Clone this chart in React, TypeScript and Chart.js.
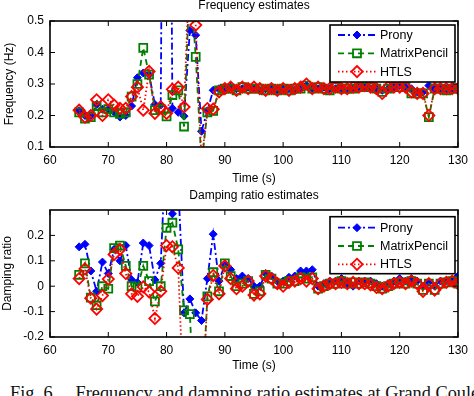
import React, { useEffect, useRef } from "react";
import { Chart, registerables } from "chart.js";
Chart.register(...registerables);

// ---------------- data ----------------
const time = [
  65, 66, 67, 68, 69, 70, 71, 72, 73, 74, 75, 76, 77, 78, 79, 80, 81, 82, 83, 84, 85, 86,
  87, 88, 89, 90, 91, 92, 93, 94, 95, 96, 97, 98, 99, 100, 101, 102, 103, 104, 105, 106,
  107, 108, 109, 110, 111, 112, 113, 114, 115, 116, 117, 118, 119, 120, 121, 122, 123, 124,
  125, 126, 127, 128, 129, 130,
];
const seriesNames = ["Prony", "MatrixPencil", "HTLS"];
const xTicks = [60, 70, 80, 90, 100, 110, 120, 130];
const freqTicks = [0.1, 0.2, 0.3, 0.4, 0.5];
const dampTicks = [-0.2, -0.1, 0, 0.1, 0.2];

const freqProny = [
  0.215, 0.2, 0.2, 0.235, 0.22, 0.22, 0.21, 0.195, 0.2, 0.23, 0.32, 0.335, 0.33, 0.235, 0.233,
  3.0, 0.223, 0.21, 0.198, 0.47, 0.455, 0.15, 0.215, 0.28,
  0.285, 0.285, 0.29, 0.285, 0.285, 0.29, 0.285, 0.28, 0.285, 0.285, 0.28, 0.285, 0.285, 0.28,
  0.285, 0.295, 0.285, 0.285, 0.29, 0.285, 0.285, 0.285, 0.28, 0.285, 0.29, 0.29, 0.285, 0.285,
  0.28, 0.285, 0.29, 0.295, 0.29, 0.285, 0.275, 0.275, 0.295, 0.285, 0.285, 0.285, 0.285, 0.285,
];
const freqMatrixPencil = [
  0.21, 0.19, 0.195, 0.23, 0.21, 0.22, 0.21, 0.205, 0.21, 0.26, 0.3, 0.415, 0.33, 0.217, 0.22,
  0.197, 0.265, 0.28, 0.165, 0.65, 0.386, 0.05, 0.21, 0.215,
  0.28, 0.285, 0.285, 0.28, 0.29, 0.285, 0.285, 0.285, 0.28, 0.285, 0.28, 0.285, 0.28, 0.285,
  0.285, 0.295, 0.285, 0.29, 0.285, 0.28, 0.29, 0.285, 0.285, 0.285, 0.29, 0.29, 0.29, 0.285,
  0.275, 0.285, 0.29, 0.29, 0.29, 0.27, 0.27, 0.27, 0.195, 0.285, 0.285, 0.28, 0.285, 0.285,
];
const freqHTLS = [
  0.217, 0.195, 0.2, 0.25, 0.2, 0.25, 0.233, 0.223, 0.223, 0.26, 0.29, 0.217, 0.34, 0.207, 0.227,
  0.207, 0.283, 0.29, 0.227, 0.7, 0.487, 0.05, 0.222, 0.22,
  0.275, 0.285, 0.29, 0.28, 0.29, 0.285, 0.29, 0.285, 0.28, 0.285, 0.28, 0.285, 0.28, 0.285,
  0.29, 0.3, 0.285, 0.29, 0.285, 0.285, 0.29, 0.285, 0.285, 0.29, 0.29, 0.295, 0.29, 0.285,
  0.27, 0.29, 0.29, 0.29, 0.29, 0.275, 0.27, 0.27, 0.2, 0.285, 0.285, 0.285, 0.285, 0.285,
];

const dampProny = [
  0.155, 0.165, 0.06, -0.02, 0.095, 0.05, 0.145, 0.1, 0.16, 0.025, 0.015, 0.17, 0.16, 0.025,
  0.09, 0.6, 0.285, 0.4, -0.105, -0.05, -0.105, -0.135, 0.03, 0.205, 0.02,
  0.085, 0.065, 0.03, 0.04, 0.03, 0.0, 0.0, 0.05, 0.04, 0.02,
  0.02, 0.035, 0.04, 0.06, 0.06, 0.065, 0.0, 0.01, 0.02, 0.02,
  0.03, 0.01, 0.0, 0.02, 0.02, 0.02, 0.01, 0.0, 0.01, 0.02,
  0.03, 0.02, 0.03, 0.02, 0.0, 0.015, 0.0, 0.02, 0.02, 0.025, 0.04,
];
const dampMatrixPencil = [
  0.045, 0.09, -0.045, -0.075, 0.0, -0.01, 0.15, 0.16, 0.08, 0.0, -0.005, 0.08, 0.02, -0.06,
  0.0, 0.23, 0.25, 0.145, -0.095, -0.11, -0.6, -0.5, -0.04, 0.055, -0.02,
  0.09, 0.04, 0.0, 0.01, 0.02, -0.03, -0.02, 0.045, 0.03, 0.01,
  0.01, 0.02, 0.02, 0.035, 0.03, 0.035, -0.01, 0.0, 0.01, 0.01,
  0.02, 0.01, 0.015, 0.01, 0.015, 0.01, 0.0, -0.01, 0.0, 0.01,
  0.015, 0.01, 0.02, 0.01, -0.015, 0.01, -0.015, 0.01, 0.015, 0.02, 0.01,
];
const dampHTLS = [
  0.03, 0.068, -0.047, -0.09, -0.037, 0.028, 0.125, 0.145, 0.05, -0.03, -0.04, -0.003, -0.022,
  -0.127, -0.02, 0.16, 0.155, 0.072, -0.5, -0.6, -0.6, -0.5, -0.052, 0.042, -0.03,
  0.08, 0.03, -0.01, 0.0, 0.02, -0.035, -0.03, 0.04, 0.03, 0.01,
  0.0, 0.015, 0.02, 0.03, 0.02, 0.03, -0.01, 0.0, 0.01, 0.01,
  0.015, 0.01, 0.015, 0.01, 0.01, 0.005, -0.005, -0.01, 0.0, 0.01,
  0.015, 0.01, 0.02, 0.01, -0.02, 0.01, -0.015, 0.01, 0.015, 0.02, 0.01,
];

// ---------------- styles ----------------
const FONT = '"Liberation Sans", Arial, Helvetica, sans-serif';
const styles = [
  { color: "#0000ff", dash: [7, 3, 2, 3], point: "rectRot", radius: 4, fill: true, pw: 1 },
  { color: "#008000", dash: [6, 4], point: "rect", radius: 5.6, fill: false, pw: 1.8 },
  { color: "#ff0000", dash: [1.5, 2.5], point: "rectRot", radius: 5.6, fill: false, pw: 1.8 },
];

function drawMarker(ctx: CanvasRenderingContext2D, st: any, x: number, y: number) {
  ctx.save();
  ctx.setLineDash([]);
  ctx.lineWidth = st.pw;
  ctx.strokeStyle = st.color;
  ctx.fillStyle = st.color;
  ctx.beginPath();
  if (st.point === "rect") {
    const s = st.radius * Math.SQRT1_2;
    ctx.rect(x - s, y - s, 2 * s, 2 * s);
  } else {
    const r = st.radius;
    ctx.moveTo(x, y - r);
    ctx.lineTo(x + r, y);
    ctx.lineTo(x, y + r);
    ctx.lineTo(x - r, y);
    ctx.closePath();
  }
  if (st.fill) ctx.fill();
  ctx.stroke();
  ctx.restore();
}

const framePlugin = {
  id: "frame",
  afterDatasetsDraw(chart: any) {
    const { ctx, chartArea: a } = chart;
    const xs = chart.scales.x;
    const ys = chart.scales.y;
    const L = 5;
    ctx.save();
    ctx.setLineDash([]);
    ctx.strokeStyle = "#000";
    ctx.lineWidth = 1;
    ctx.beginPath();
    for (const t of xs.ticks) {
      const p = xs.getPixelForValue(t.value);
      ctx.moveTo(p, a.bottom);
      ctx.lineTo(p, a.bottom - L);
      ctx.moveTo(p, a.top);
      ctx.lineTo(p, a.top + L);
    }
    for (const t of ys.ticks) {
      const p = ys.getPixelForValue(t.value);
      ctx.moveTo(a.left, p);
      ctx.lineTo(a.left + L, p);
      ctx.moveTo(a.right, p);
      ctx.lineTo(a.right - L, p);
    }
    ctx.stroke();
    ctx.lineWidth = 1.6;
    ctx.strokeRect(a.left, a.top, a.right - a.left, a.bottom - a.top);
    ctx.restore();
  },
};

const boxLegendPlugin = {
  id: "boxLegend",
  afterDraw(chart: any, _args: any, opts: any) {
    const { ctx, chartArea: a } = chart;
    const w = 125;
    const h = 57;
    const x0 = a.right - 3 - w;
    const y0 = a.top + opts.dy;
    ctx.save();
    ctx.fillStyle = "#fff";
    ctx.fillRect(x0, y0, w, h);
    ctx.setLineDash([]);
    ctx.strokeStyle = "#000";
    ctx.lineWidth = 1.6;
    ctx.strokeRect(x0, y0, w, h);
    chart.data.datasets.forEach((ds: any, i: number) => {
      const st = styles[i];
      const cy = y0 + opts.first + i * 18.3;
      ctx.strokeStyle = st.color;
      ctx.lineWidth = 1.8;
      ctx.setLineDash(st.dash);
      ctx.beginPath();
      ctx.moveTo(x0 + 8, cy);
      ctx.lineTo(x0 + 46, cy);
      ctx.stroke();
      drawMarker(ctx, st, x0 + 27, cy);
      ctx.fillStyle = "#000";
      ctx.font = `12.5px ${FONT}`;
      ctx.textAlign = "left";
      ctx.textBaseline = "middle";
      ctx.fillText(ds.label, x0 + 50, cy + 0.5);
    });
    ctx.restore();
  },
};

type PanelCfg = {
  title: string;
  titlePad: { top: number; bottom: number };
  yLabel: string;
  yTitlePad: number;
  yMin: number;
  yMax: number;
  yTicks: number[];
  xHeight: number;
  legendDy: number;
  legendFirst: number;
  series: number[][];
};

function makeChart(canvas: HTMLCanvasElement, p: PanelCfg) {
  const tickFont = { family: FONT, size: 12 };
  return new Chart(canvas, {
    type: "line",
    data: {
      datasets: p.series.map((vals, i) => ({
        label: seriesNames[i],
        data: time.map((t, k) => ({ x: t, y: vals[k] })),
        borderColor: styles[i].color,
        borderWidth: 1.8,
        borderDash: styles[i].dash,
        pointStyle: styles[i].point,
        pointRadius: styles[i].radius,
        pointBorderWidth: styles[i].pw,
        pointBorderColor: styles[i].color,
        pointBackgroundColor: styles[i].fill ? styles[i].color : "rgba(0,0,0,0)",
        fill: false,
        tension: 0,
        order: 3 - i,
      })),
    } as any,
    options: {
      animation: false,
      responsive: false,
      maintainAspectRatio: false,
      events: [],
      layout: { padding: { left: 0, right: 12, top: 0, bottom: 0 } },
      plugins: {
        legend: { display: false },
        tooltip: { enabled: false },
        title: {
          display: true,
          text: p.title,
          fullSize: false,
          color: "#000",
          font: { family: FONT, size: 12, weight: "normal" },
          padding: p.titlePad,
        },
        boxLegend: { dy: p.legendDy, first: p.legendFirst },
      } as any,
      scales: {
        x: {
          type: "linear",
          min: xTicks[0],
          max: xTicks[xTicks.length - 1],
          afterBuildTicks: (s: any) => {
            s.ticks = xTicks.map((v) => ({ value: v }));
          },
          afterFit: (s: any) => {
            s.height = p.xHeight;
          },
          ticks: { color: "#000", font: tickFont, padding: 6, maxRotation: 0, autoSkip: false },
          grid: { display: false, drawTicks: false },
          border: { display: false },
          title: {
            display: true,
            text: "Time (s)",
            color: "#000",
            font: tickFont,
            padding: { top: 0, bottom: 0 },
          },
        },
        y: {
          type: "linear",
          min: p.yMin,
          max: p.yMax,
          afterBuildTicks: (s: any) => {
            s.ticks = p.yTicks.map((v) => ({ value: v }));
          },
          afterFit: (s: any) => {
            s.width = 50;
          },
          ticks: { color: "#000", font: tickFont, padding: 6, autoSkip: false },
          grid: { display: false, drawTicks: false },
          border: { display: false },
          title: {
            display: true,
            text: p.yLabel,
            color: "#000",
            font: tickFont,
            padding: { top: p.yTitlePad, bottom: 0 },
          },
        },
      },
    } as any,
    plugins: [framePlugin, boxLegendPlugin],
  });
}

const freqPanel: PanelCfg = {
  title: "Frequency estimates",
  titlePad: { top: -1.2, bottom: 7.8 },
  yLabel: "Frequency (Hz)",
  yTitlePad: 2.5,
  yMin: 0.1,
  yMax: 0.5,
  yTicks: freqTicks,
  xHeight: 39,
  legendDy: 4,
  legendFirst: 10,
  series: [freqProny, freqMatrixPencil, freqHTLS],
};

const dampPanel: PanelCfg = {
  title: "Damping ratio estimates",
  titlePad: { top: 2.3, bottom: 7.3 },
  yLabel: "Damping ratio",
  yTitlePad: 0.5,
  yMin: -0.2,
  yMax: 0.3,
  yTicks: dampTicks,
  xHeight: 36,
  legendDy: 6.7,
  legendFirst: 11,
  series: [dampProny, dampMatrixPencil, dampHTLS],
};

export default function App() {
  const ref1 = useRef<HTMLCanvasElement>(null);
  const ref2 = useRef<HTMLCanvasElement>(null);
  useEffect(() => {
    const c1 = makeChart(ref1.current!, freqPanel);
    const c2 = makeChart(ref2.current!, dampPanel);
    return () => {
      c1.destroy();
      c2.destroy();
    };
  }, []);
  return (
    <div
      style={{
        position: "fixed",
        left: 0,
        top: 0,
        width: 474,
        height: 396,
        overflow: "hidden",
        background: "#fff",
      }}
    >
      <canvas
        ref={ref1}
        width={474}
        height={186}
        style={{ position: "absolute", left: 0, top: 0, width: 474, height: 186 }}
      />
      <canvas
        ref={ref2}
        width={474}
        height={187}
        style={{ position: "absolute", left: 0, top: 186, width: 474, height: 187 }}
      />
      <div
        style={{
          position: "absolute",
          left: 10,
          top: 384,
          whiteSpace: "nowrap",
          fontFamily: '"Liberation Serif", "Times New Roman", serif',
          fontSize: 18.3,
          lineHeight: "18px",
          color: "#111",
        }}
      >
        {"Fig. 6.\u2003Frequency and damping ratio estimates at Grand Coulee"}
      </div>
    </div>
  );
}
